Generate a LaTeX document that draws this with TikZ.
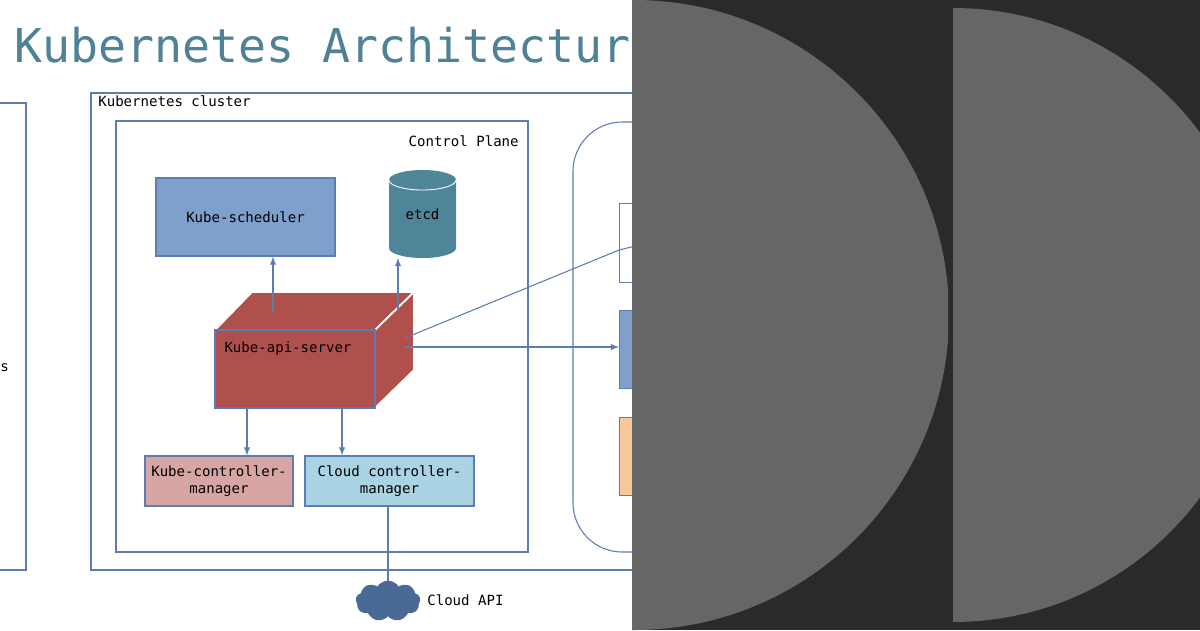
\documentclass[tikz,border=0pt]{standalone}
\usepackage{fontspec}
\setmonofont{DejaVu Sans Mono}
\usetikzlibrary{shapes.symbols}
\definecolor{edge}{HTML}{5B7DB1}
\definecolor{title}{HTML}{4F8296}
\definecolor{sched}{HTML}{7F9FCC}
\definecolor{etcdc}{HTML}{4F8598}
\definecolor{api}{HTML}{B0504C}
\definecolor{kcm}{HTML}{D8A5A5}
\definecolor{ccm}{HTML}{AAD3E3}
\definecolor{cloudc}{HTML}{4A6A96}
\definecolor{orange}{HTML}{F6C89A}
\definecolor{dark}{HTML}{2A2A2A}
\definecolor{disk}{HTML}{666666}
\tikzset{
  box/.style={draw=edge, line width=0.6pt, rectangle, inner sep=0pt, font=\ttfamily\fontsize{8}{10}\selectfont, align=center},
  lbl/.style={font=\ttfamily\fontsize{8}{10}\selectfont, inner sep=0pt},
  link/.style={draw=edge, line width=0.6pt},
  arr/.style={link, -latex}
}
\begin{document}
\begin{tikzpicture}[x=0.02cm,y=-0.02cm]
        \useasboundingbox[fill=white] (0,0) rectangle (1200,630);

        \node[font=\ttfamily\fontsize{26.5}{30}\selectfont, text=title, anchor=west, inner sep=0pt] (head) at (14,45) {Kubernetes Architectur};

        % frames
        \draw[link] (-20,103) -- (26,103) -- (26,570) -- (-20,570);
        \node[lbl, anchor=west] (lefts) at (0,368) {s};
        \draw[link] (640,93) -- (91,93) -- (91,570) -- (640,570);
        \node[lbl, anchor=north west] (clus) at (98,95) {Kubernetes cluster};
        \draw[link] (116,121) rectangle (528,552);
        \node[lbl, anchor=north east] (cp) at (519,135) {Control Plane};
        \draw[link, rounded corners=28] (660,122) -- (573,122) -- (573,552) -- (660,552);

        % control plane parts
        \node[box, fill=sched, minimum width=179*0.02cm, minimum height=78*0.02cm] (sch) at (245.5,217) {Kube-scheduler};
        \fill[etcdc] (389,180) -- (389,248) arc[start angle=180, end angle=360, x radius=33.5, y radius=-10] -- (456,180) arc[start angle=0, end angle=180, x radius=33.5, y radius=-10] -- cycle;
        \draw[white, line width=0.5pt] (389,180) arc[start angle=180, end angle=360, x radius=33.5, y radius=-10];
        \node[lbl] (etcd) at (422.5,214) {etcd};
        \coordinate (etcdb) at (422.5,258);

        % api server cube
        \filldraw[fill=api, draw=white, line width=1pt] (215,330) -- (252,292) -- (414,292) -- (375,330) -- cycle;
        \filldraw[fill=api, draw=white, line width=1pt] (375,330) -- (414,292) -- (414,370) -- (375,408) -- cycle;
        \node[box, fill=api, draw=edge, minimum width=160*0.02cm, minimum height=78*0.02cm] (api) at (295,369) {};
        \node[lbl] (apit) at (288,349) {Kube-api-server};

        \node[box, fill=kcm, minimum width=148*0.02cm, minimum height=50*0.02cm] (kcm) at (219,481) {Kube-controller-\\manager};
        \node[box, fill=ccm, minimum width=169*0.02cm, minimum height=50*0.02cm] (ccm) at (389.5,481) {Cloud controller-\\manager};
        \node[cloud, cloud puffs=9, cloud puff arc=120, aspect=1.6, fill=cloudc, draw=cloudc, minimum width=64*0.02cm, minimum height=40*0.02cm] (cloud) at (388,601) {};
        \node[lbl, anchor=west] (capi) at (427,600) {Cloud API};

        % nodes on the right
        \node[box, minimum width=30*0.02cm, minimum height=79*0.02cm, anchor=north west] (nodea) at (619,203) {};
        \node[box, fill=sched, minimum width=30*0.02cm, minimum height=78*0.02cm, anchor=north west] (nodeb) at (619,310) {};
        \node[box, fill=orange, minimum width=30*0.02cm, minimum height=78*0.02cm, anchor=north west] (nodec) at (619,417) {};

        \coordinate (upsch) at (273,312);
        \coordinate (upetcd) at (398,310);
        \coordinate (outa) at (405,338);
        \coordinate (outb) at (405,347);
        \draw[arr] (upsch) -- (upsch |- sch.south);
        \draw[arr] (upetcd) -- (upetcd |- etcdb);
        \draw[arr] (api.south -| 247,0) -- (kcm.north -| 247,0);
        \draw[arr] (api.south -| 342,0) -- (ccm.north -| 342,0);
        \draw[link] (ccm.south -| cloud) -- (cloud.north);
        \draw[link] (outa) -- (nodea.west |- 0,250) -- (660,240);
        \draw[arr] (outb) -- (nodeb.west |- outb);

        % dark panel
        \fill[dark] (632,0) rectangle (1200,630);
        \begin{scope}
          \clip (632,0) rectangle (948,630);
          \fill[disk] (634,315) circle (315);
        \end{scope}
        \begin{scope}
          \clip (953,0) rectangle (1200,630);
          \fill[disk] (953,315) circle (307);
        \end{scope}
    \end{tikzpicture}
\end{document}
